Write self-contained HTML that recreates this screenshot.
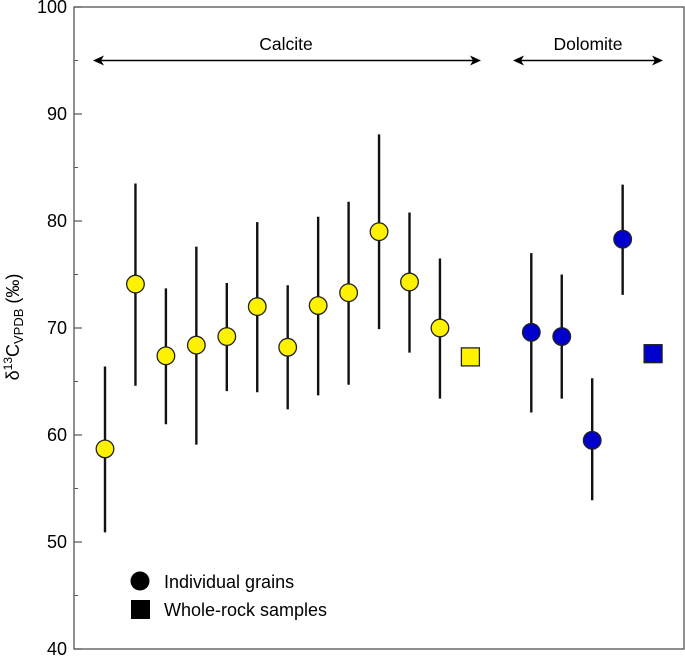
<!DOCTYPE html>
<html><head><meta charset="utf-8"><style>
body{margin:0;background:#fff;}
svg text{font-family:"Liberation Sans",sans-serif;}
</style></head><body>
<svg id="chart" width="685" height="656" xmlns="http://www.w3.org/2000/svg">
<g id="axes"></g>
<g id="marks"></g>
<g id="legend">
<circle cx="140" cy="581" r="9.5" fill="#000"/>
<text x="164" y="588" font-size="18">Individual grains</text>
<rect x="131" y="600" width="19" height="19" fill="#000"/>
<text x="164" y="616" font-size="18">Whole-rock samples</text>
</g>
</svg>
<script>
const yTicks=[40,50,60,70,80,90,100];
const minorTicks=[45,55,65,75,85,95];
const calciteIdx=[0,1,2,3,4,5,6,7,8,9,10,11];
const calciteVal=[58.7,74.1,67.4,68.4,69.2,72.0,68.2,72.1,73.3,79.0,74.3,70.0];
const calciteHi=[66.4,83.5,73.7,77.6,74.2,79.9,74.0,80.4,81.8,88.1,80.8,76.5];
const calciteLo=[50.9,64.6,61.0,59.1,64.1,64.0,62.4,63.7,64.7,69.9,67.7,63.4];
const calciteRockIdx=[12];
const calciteRockVal=[67.3];
const dolIdx=[14,15,16,17];
const dolVal=[69.6,69.2,59.5,78.3];
const dolHi=[77.0,75.0,65.3,83.4];
const dolLo=[62.1,63.4,53.9,73.1];
const dolRockIdx=[18];
const dolRockVal=[67.6];
const NS="http://www.w3.org/2000/svg";
const L=74,R=684,T=7,B=649;
const y=v=>B-(v-40)*(B-T)/60;
const x=i=>105+i*30.45;
function mk(tag,attrs,parent){const e=document.createElementNS(NS,tag);for(const k in attrs)e.setAttribute(k,attrs[k]);parent.appendChild(e);return e;}
const ax=document.getElementById('axes'),mg=document.getElementById('marks');
let f=mk('rect',{x:L,y:T,width:R-L,height:B-T,fill:'none',stroke:'#555','stroke-width':1.3},ax);


yTicks.forEach(v=>{
 let t=mk('line',{x1:L,x2:L+8,y1:y(v),y2:y(v),stroke:'#555','stroke-width':1.2},ax);
 
 
 let l=mk('text',{x:L-7,y:y(v)+6,'text-anchor':'end','font-size':18},ax);
 l.textContent=v;
 
 
});
minorTicks.forEach(v=>{
 let t=mk('line',{x1:L,x2:L+4,y1:y(v),y2:y(v),stroke:'#555','stroke-width':1},ax);
 
 
});
let yt=mk('text',{transform:'translate(19,327) rotate(-90)','text-anchor':'middle','font-size':18},ax);
yt.innerHTML='δ<tspan dy="-7" font-size="12">13</tspan><tspan dy="7">C</tspan><tspan dy="4" font-size="13">VPDB</tspan><tspan dy="-4"> (‰)</tspan>';


function arrow(x1,x2,name){
 const g=mk('g',{},ax);
 
 
 const yy=y(95);
 mk('line',{x1:x1+6,x2:x2-6,y1:yy,y2:yy,stroke:'#000','stroke-width':1.5},g);
 mk('path',{d:`M${x1},${yy} L${x1+11},${yy-5} L${x1+8},${yy} L${x1+11},${yy+5}Z`,fill:'#000'},g);
 mk('path',{d:`M${x2},${yy} L${x2-11},${yy-5} L${x2-8},${yy} L${x2-11},${yy+5}Z`,fill:'#000'},g);
}
arrow(93,481,'calcite-arrow');arrow(513,663,'dolomite-arrow');
let c1=mk('text',{x:286,y:50,'text-anchor':'middle','font-size':17.5},ax);c1.textContent='Calcite';


let c2=mk('text',{x:588,y:50,'text-anchor':'middle','font-size':17.5},ax);c2.textContent='Dolomite';


function series(idx,val,hi,lo,color,name){
 idx.forEach((i,k)=>{
  let e=mk('line',{x1:x(i),x2:x(i),y1:y(hi[k]),y2:y(lo[k]),stroke:'#111','stroke-width':2.4},mg);
  
  
 });
 idx.forEach((i,k)=>{
  let c=mk('circle',{cx:x(i),cy:y(val[k]),r:8.8,fill:color,stroke:'#222','stroke-width':1.3},mg);
  
  
 });
}
function rocks(idx,val,color,name){
 idx.forEach((i,k)=>{
  let r=mk('rect',{x:x(i)-9,y:y(val[k])-9,width:18,height:18,fill:color,stroke:'#222','stroke-width':1.3},mg);
  
  
 });
}
series(calciteIdx,calciteVal,calciteHi,calciteLo,'#fff200','calcite-grain');
rocks(calciteRockIdx,calciteRockVal,'#fff200','calcite-whole-rock');
series(dolIdx,dolVal,dolHi,dolLo,'#0000cc','dolomite-grain');
rocks(dolRockIdx,dolRockVal,'#0000cc','dolomite-whole-rock');
</script>
</body></html>
